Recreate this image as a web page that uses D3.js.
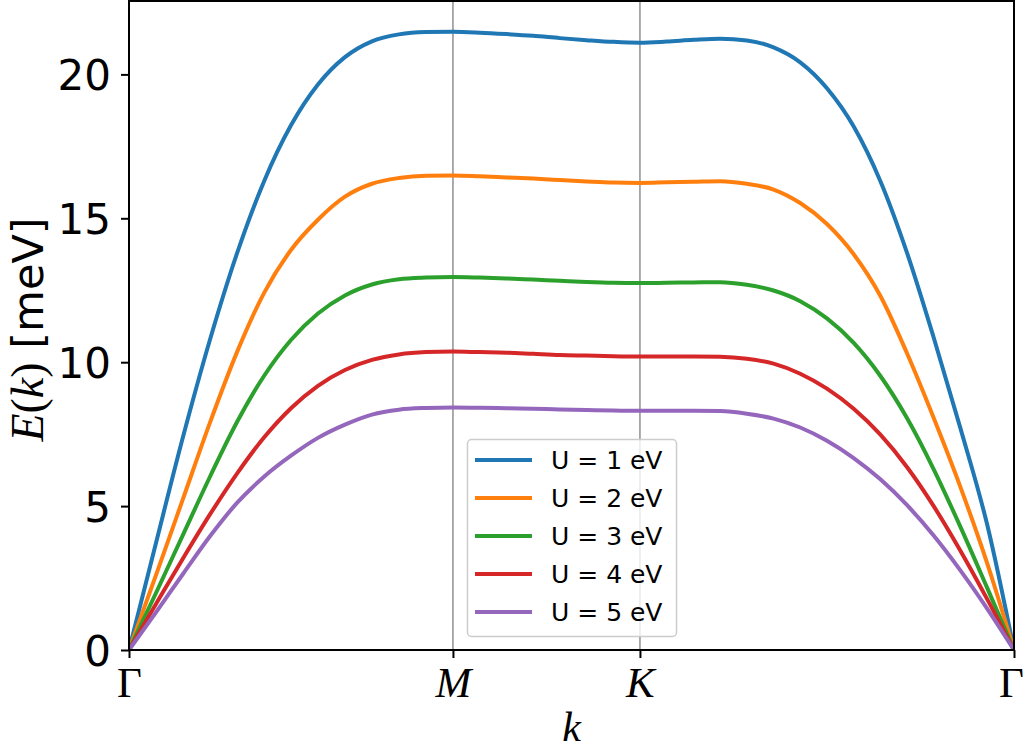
<!DOCTYPE html>
<html><head><meta charset="utf-8">
<script src="https://cdn.jsdelivr.net/npm/d3@7"></script>
<style>body{margin:0;background:#fff} svg{display:block}</style>
</head><body><svg id="chart" width="1025" height="753"></svg>
<script>
// k-path positions (Γ → M → K → Γ)
const kPoints = [
  0, 0.0481, 0.0962, 0.1443, 0.1925, 0.2406, 0.2887, 0.3368, 0.3849, 0.4330, 0.4811, 0.5293, 0.5774,
  0.6250, 0.6726, 0.7202, 0.7679, 0.8155, 0.8631, 0.9107,
  0.9583, 1.0060, 1.0536, 1.1012, 1.1488, 1.1964, 1.2440, 1.2917, 1.3393, 1.3869, 1.4345, 1.4821, 1.5298, 1.5774
];
const E_U1 = [0, 3.72, 7.40, 10.78, 13.78, 16.28, 18.23, 19.65, 20.6, 21.15, 21.39, 21.47, 21.48,
  21.45, 21.40, 21.34, 21.26, 21.19, 21.13, 21.10,
  21.14, 21.20, 21.24, 21.18, 20.94, 20.42, 19.52, 18.19, 16.29, 13.79, 10.84, 7.69, 4.34, 0];
const E_U2 = [0, 2.6, 5.25, 7.9, 10.35, 12.4, 13.9, 14.95, 15.75, 16.2, 16.4, 16.48, 16.49,
  16.46, 16.42, 16.38, 16.33, 16.28, 16.24, 16.23,
  16.25, 16.27, 16.29, 16.2, 16.0, 15.53, 14.8, 13.75, 12.3, 10.3, 8.05, 5.65, 3.0, 0];
const E_U3 = [0, 1.98, 4.0, 6.02, 7.92, 9.52, 10.77, 11.69, 12.32, 12.7, 12.88, 12.94, 12.96,
  12.94, 12.91, 12.87, 12.83, 12.79, 12.76, 12.75,
  12.76, 12.77, 12.78, 12.69, 12.49, 12.12, 11.52, 10.67, 9.52, 8.05, 6.27, 4.27, 2.15, 0];
const E_U4 = [0, 1.6, 3.18, 4.71, 6.13, 7.38, 8.4, 9.18, 9.73, 10.08, 10.27, 10.35, 10.37,
  10.35, 10.33, 10.29, 10.25, 10.23, 10.21, 10.2,
  10.2, 10.2, 10.19, 10.12, 9.95, 9.6, 9.08, 8.38, 7.48, 6.35, 4.99, 3.44, 1.76, 0];
const E_U5 = [0, 1.31, 2.64, 3.95, 5.11, 6.02, 6.75, 7.37, 7.83, 8.18, 8.35, 8.41, 8.43,
  8.42, 8.40, 8.38, 8.36, 8.34, 8.32, 8.31,
  8.31, 8.31, 8.3, 8.21, 8.04, 7.73, 7.27, 6.67, 5.93, 5.03, 3.97, 2.76, 1.43, 0];
const seriesLabels = ["U = 1 eV", "U = 2 eV", "U = 3 eV", "U = 4 eV", "U = 5 eV"];
const seriesColors = ["#1f77b4", "#ff7f0e", "#2ca02c", "#d62728", "#9467bd"];
const kTickPositions = [0, 0.5774, 0.9107, 1.5774];
const kTickLabels = ["Γ", "M", "K", "Γ"];
const yTicks = [0, 5, 10, 15, 20];

const seriesValues = [E_U1, E_U2, E_U3, E_U4, E_U5];

const svg = d3.select("#chart");
const plot = {left: 129, right: 1014, top: 1, bottom: 650};
const x = d3.scaleLinear().domain([0, 1.5774]).range([plot.left, plot.right]);
const y = d3.scaleLinear().domain([0, 22.55]).range([plot.bottom, plot.top]);

svg.append("defs").append("clipPath").attr("id", "clip")
  .append("rect").attr("x", plot.left).attr("y", plot.top)
  .attr("width", plot.right - plot.left).attr("height", plot.bottom - plot.top);

// vertical high-symmetry lines
svg.append("g").selectAll("line").data(kTickPositions.slice(1, 3)).join("line")
  .attr("x1", d => x(d)).attr("x2", d => x(d))
  .attr("y1", plot.top).attr("y2", plot.bottom)
  .attr("stroke", "#7f7f7f").attr("stroke-width", 1.3);

// curves
const line = d3.line()
  .x((d, i) => x(kPoints[i]))
  .y(d => y(d))
  .curve(d3.curveMonotoneX);

svg.append("g").attr("clip-path", "url(#clip)")
  .selectAll("path").data(seriesValues).join("path")
  .attr("d", d => line(d))
  .attr("fill", "none")
  .attr("stroke", (d, i) => seriesColors[i])
  .attr("stroke-width", 4)
  .attr("stroke-linejoin", "round")
  .attr("stroke-linecap", "butt");

// axes
const yAxis = d3.axisLeft(y).tickValues(yTicks).tickSize(8).tickPadding(10);
const gy = svg.append("g").attr("transform", `translate(${plot.left},0)`).call(yAxis);
gy.select(".domain").remove();
gy.selectAll(".tick line").attr("stroke", "#000").attr("stroke-width", 2);
gy.selectAll(".tick text")
  .attr("font-family", "'DejaVu Sans', sans-serif")
  .attr("font-size", 42).attr("fill", "#000").attr("dy", "0.36em");

const xAxis = d3.axisBottom(x).tickValues(kTickPositions)
  .tickFormat((d, i) => kTickLabels[i]).tickSize(8);
const gx = svg.append("g").attr("transform", `translate(0,${plot.bottom})`).call(xAxis);
gx.select(".domain").remove();
gx.selectAll(".tick line").attr("stroke", "#000").attr("stroke-width", 2);
gx.selectAll(".tick text")
  .attr("font-family", "'Liberation Serif', serif")
  .attr("font-size", 43).attr("fill", "#000")
  .attr("y", 47).attr("dy", 0)
  .attr("font-style", (d, i) => (i === 1 || i === 2) ? "italic" : "normal");
// keep the last Γ inside the page
gx.selectAll(".tick text").filter((d, i) => i === 3).attr("dx", -3);

// frame
svg.append("rect")
  .attr("x", plot.left).attr("y", plot.top)
  .attr("width", plot.right - plot.left).attr("height", plot.bottom - plot.top)
  .attr("fill", "none").attr("stroke", "#000").attr("stroke-width", 2);

// axis labels
svg.append("text")
  .attr("x", (plot.left + plot.right) / 2).attr("y", 741)
  .attr("text-anchor", "middle")
  .attr("font-family", "'Liberation Serif', serif").attr("font-style", "italic")
  .attr("font-size", 42).text("k");

const yl = svg.append("text")
  .attr("transform", `translate(43,${(plot.top + plot.bottom) / 2 + 4}) rotate(-90)`)
  .attr("text-anchor", "middle")
  .attr("font-size", 43);
yl.append("tspan").attr("font-family", "'Liberation Serif', serif").attr("font-style", "italic").attr("font-size", 46).text("E");
yl.append("tspan").attr("font-family", "'Liberation Serif', serif").attr("font-size", 46).text("(");
yl.append("tspan").attr("font-family", "'Liberation Serif', serif").attr("font-style", "italic").attr("font-size", 46).text("k");
yl.append("tspan").attr("font-family", "'Liberation Serif', serif").attr("font-size", 46).text(")");
yl.append("tspan").attr("font-family", "'DejaVu Sans', sans-serif").text(" [meV]");

// legend
const leg = svg.append("g");
leg.append("rect")
  .attr("x", 467.5).attr("y", 439.5).attr("width", 209).attr("height", 197)
  .attr("rx", 4).attr("ry", 4)
  .attr("fill", "#fff").attr("fill-opacity", 0.8)
  .attr("stroke", "#cccccc").attr("stroke-width", 1.5);
const rows = leg.selectAll("g.row").data(seriesLabels).join("g")
  .attr("class", "row")
  .attr("transform", (d, i) => `translate(0,${460 + i * 38})`);
rows.append("line")
  .attr("x1", 475).attr("x2", 532).attr("y1", 0).attr("y2", 0)
  .attr("stroke", (d, i) => seriesColors[i]).attr("stroke-width", 4);
rows.append("text")
  .attr("x", 551).attr("y", 0).attr("dy", "0.36em")
  .attr("font-family", "'DejaVu Sans', sans-serif").attr("font-size", 25)
  .attr("fill", "#000")
  .text(d => d);
</script></body></html>
